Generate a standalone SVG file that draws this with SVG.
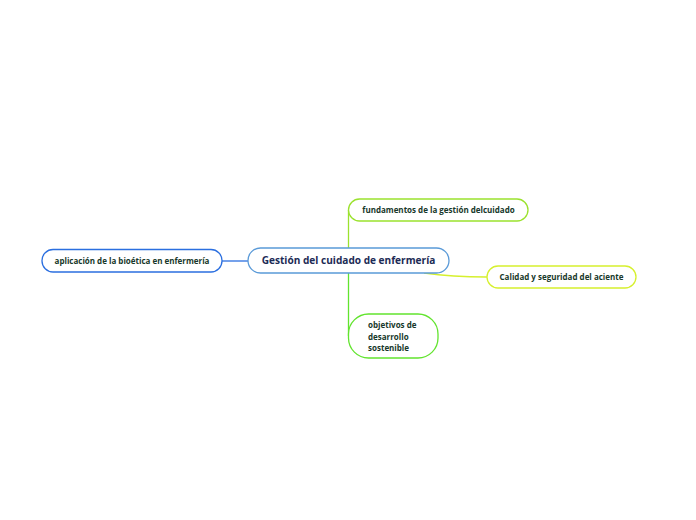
<svg xmlns="http://www.w3.org/2000/svg" width="696" height="520" viewBox="0 0 696 520">
<style>
.t{font-family:"Open Sans","Noto Sans","DejaVu Sans",sans-serif;font-weight:bold;fill:#17382a;font-size:8px}
.c{font-family:"Open Sans","Noto Sans","DejaVu Sans",sans-serif;font-weight:bold;fill:#1c2b55;font-size:10.1px}
.n{fill:#ffffff;stroke-width:1.3}
.l{fill:none;stroke-width:1.3}
</style>
<rect width="696" height="520" fill="#ffffff"/>
<g id="connectors">
<path class="l" stroke="#2b6fe0" d="M222,261 L248,261"/>
<path class="l" stroke="#9be22e" d="M348.5,248 L348.5,210"/>
<path class="l" stroke="#62e42e" d="M348.5,273 L348.5,336"/>
<path class="l" stroke="#d6f02e" d="M424,273 C445,276 460,277 487,277"/>
</g>
<g id="node-left">
<rect class="n" stroke="#2b6fe0" x="42" y="249.5" width="180" height="22.5" rx="11"/>
<text class="t" x="132" y="263.8" text-anchor="middle">aplicación de la bioética en enfermería</text>
</g>
<g id="node-top">
<rect class="n" stroke="#9be22e" x="348.5" y="199" width="179.5" height="22" rx="11"/>
<text class="t" x="438.5" y="213" text-anchor="middle">fundamentos de la gestión delcuidado</text>
</g>
<g id="node-right">
<rect class="n" stroke="#d6f02e" x="487" y="266" width="149" height="22" rx="11"/>
<text class="t" x="561.5" y="280" text-anchor="middle">Calidad y seguridad del aciente</text>
</g>
<g id="node-bottom">
<rect class="n" stroke="#62e42e" x="348.5" y="314" width="89.5" height="44" rx="20"/>
<text class="t" x="368" y="328">objetivos de</text>
<text class="t" x="368" y="339.5">desarrollo</text>
<text class="t" x="368" y="351">sostenible</text>
</g>
<g id="node-center">
<rect class="n" stroke="#5a9ad8" x="248" y="248" width="201" height="25" rx="12.5"/>
<text class="c" x="348.5" y="264.3" text-anchor="middle">Gestión del cuidado de enfermería</text>
</g>
</svg>
